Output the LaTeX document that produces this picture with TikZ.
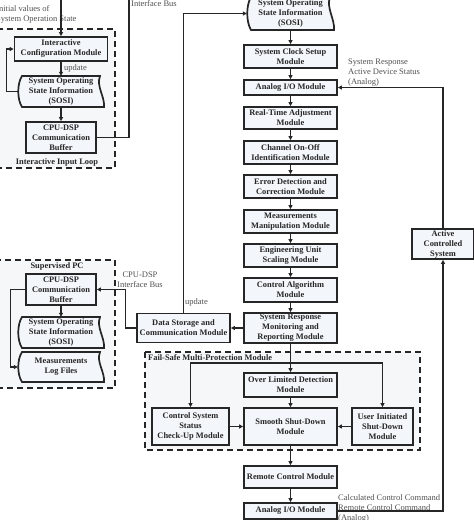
\documentclass[tikz,border=0pt]{standalone}
\usepackage{fontspec}
\setmainfont{Liberation Serif}
\usetikzlibrary{arrows.meta,calc}
\definecolor{boxfill}{HTML}{F3F6FA}
\definecolor{grpfill}{HTML}{F6F7F9}
\definecolor{linec}{HTML}{262626}
\definecolor{labc}{HTML}{505050}
\tikzset{
 boxline/.style={draw=linec, line width=1.7pt},
 modbox/.style={boxline, fill=boxfill, align=center, inner sep=0pt, font=\fontsize{8.4}{10}\selectfont\bfseries, text=black!85},
 boxtext/.style={align=center, inner sep=0pt, font=\fontsize{8.4}{10}\selectfont\bfseries, text=black!85},
 group/.style={draw=linec, line width=1.6pt, dash pattern=on 6pt off 4pt, fill=grpfill},
 conn/.style={draw=linec, line width=1.3pt},
 arr/.style={conn, -{Triangle[length=4pt,width=4pt]}},
 lab/.style={align=left, inner sep=0pt, font=\fontsize{8.5}{10}\selectfont, text=labc},
 grptitle/.style={inner sep=0pt, font=\fontsize{8.4}{10}\selectfont\bfseries, text=black!85},
}
% name, cx, cy, w, h, text
\newcommand{\tapenode}[6]{%
  \path[boxline,fill=boxfill] (#2-#4/2+4,#3-#5/2) -- (#2+#4/2-4,#3-#5/2)
    .. controls (#2+#4/2-8,#3-#5/6) and (#2+#4/2+1,#3+#5/6) .. (#2+#4/2,#3+#5/2)
    -- (#2-#4/2+4,#3+#5/2)
    .. controls (#2-#4/2-1,#3+#5/4) and (#2-#4/2-1,#3-#5/4) .. cycle;
  \node[boxtext, minimum width=#4pt, minimum height=#5pt] (#1) at (#2,#3) {#6};
}
\begin{document}
\begin{tikzpicture}[x=1pt,y=-1pt]
\useasboundingbox (0,0) rectangle (474,520);

% groups
\draw[group] (-5,29) rectangle (115,168);
\draw[group] (-5,260) rectangle (115,388);
\draw[group] (145,352) rectangle (420,450);
\node[grptitle] (tint) at (57,162) {Interactive Input Loop};
\node[grptitle] (tsup) at (57,266) {Supervised PC};
\node[grptitle, anchor=west] (tfs) at (148,358) {Fail-Safe Multi-Protection Module};

% interactive input loop
\node[modbox, minimum width=93pt, minimum height=24pt] (icfg) at (61,49) {Interactive\\Configuration Module};
\tapenode{isosi}{61}{91.5}{86}{31}{System Operating\\State Information\\(SOSI)}
\node[modbox, minimum width=70pt, minimum height=31pt] (icpu) at (61,137.5) {CPU-DSP\\Communication\\Buffer};

% supervised PC
\node[modbox, minimum width=70pt, minimum height=31pt] (scpu) at (61,289.5) {CPU-DSP\\Communication\\Buffer};
\tapenode{ssosi}{61}{332.5}{86}{31}{System Operating\\State Information\\(SOSI)}
\tapenode{mlog}{61}{367}{86}{30}{Measurements\\Log Files}

% main column
\tapenode{sosi}{290.5}{13.5}{87}{33}{System Operating\\State Information\\(SOSI)}
\node[modbox, minimum width=93pt, minimum height=23pt] (clk) at (290.5,56.5) {System Clock Setup\\Module};
\node[modbox, minimum width=93pt, minimum height=15pt] (aio1) at (290.5,87.5) {Analog I/O Module};
\node[modbox, minimum width=93pt, minimum height=22pt] (rt) at (290.5,118) {Real-Time Adjustment\\Module};
\node[modbox, minimum width=93pt, minimum height=23pt] (ch) at (290.5,152.5) {Channel On-Off\\Identification Module};
\node[modbox, minimum width=93pt, minimum height=23pt] (err) at (290.5,186.5) {Error Detection and\\Correction Module};
\node[modbox, minimum width=93pt, minimum height=23pt] (mm) at (290.5,221.5) {Measurements\\Manipulation Module};
\node[modbox, minimum width=93pt, minimum height=23pt] (eng) at (290.5,255.5) {Engineering Unit\\Scaling Module};
\node[modbox, minimum width=93pt, minimum height=24pt] (ca) at (290.5,290) {Control Algorithm\\Module};
\node[modbox, minimum width=93pt, minimum height=30pt] (srm) at (290.5,328) {System Response\\Monitoring and\\Reporting Module};
\node[modbox, minimum width=93pt, minimum height=29pt] (ds) at (183.5,328) {Data Storage and\\Communication Module};

% fail-safe
\node[modbox, minimum width=93pt, minimum height=24pt] (ol) at (290.5,385) {Over Limited Detection\\Module};
\node[modbox, minimum width=77pt, minimum height=37pt] (cs) at (190.5,426.5) {Control System\\Status\\Check-Up Module};
\node[modbox, minimum width=93pt, minimum height=37pt] (ss) at (290.5,426.5) {Smooth Shut-Down\\Module};
\node[modbox, minimum width=61pt, minimum height=37pt] (ui) at (382.5,426.5) {User Initiated\\Shut-Down\\Module};

\node[modbox, minimum width=93pt, minimum height=22pt] (rc) at (290.5,477) {Remote Control Module};
\node[modbox, minimum width=93pt, minimum height=16pt] (aio2) at (290.5,511) {Analog I/O Module};
\node[modbox, minimum width=62pt, minimum height=30pt] (acs) at (443,244) {Active\\Controlled\\System};

% labels
\node[lab, anchor=north west] (initlab) at (-4,5.5) {Initial values of\\System Operation State};
\node[lab, anchor=west] (upd1) at (64,68.5) {update};
\node[lab, anchor=north west] (ibuslab) at (131,-9.5) {CPU-DSP\\Interface Bus};
\node[lab, anchor=west] (upd2) at (185,302) {update};
\node[lab, align=center, anchor=north] (sbuslab) at (140,271.5) {CPU-DSP\\Interface Bus};
\node[lab, anchor=north west] (fbklab) at (348,58.5) {System Response\\Active Device Status\\(Analog)};
\node[lab, anchor=north west] (cmdlab) at (338,494.5) {Calculated Control Command\\Remote Control Command\\(Analog)};

% connectors: interactive loop
\coordinate (initTop) at (61,-5);
\draw[arr] (initTop) -- (icfg.north);
\draw[arr] (icfg.south) -- (isosi.north);
\draw[arr] (isosi.south) -- (icpu.north);
\draw[arr] (isosi.west) -- ++(-11,0) |- (icfg.west);
\coordinate (ibus) at (129,-5);
\draw[conn] (icpu.east) -| (ibus);

% supervised PC
\draw[arr] (ds.west) -- ++(-11,0) |- (scpu.east);
\draw[arr] (scpu.south) -- (ssosi.north);
\draw[arr] (scpu.west) -- ++(-15,0) |- (mlog.west);

% main chain
\draw[arr] (sosi.south) -- (clk.north);
\draw[arr] (clk) -- (aio1);
\draw[arr] (aio1) -- (rt);
\draw[arr] (rt) -- (ch);
\draw[arr] (ch) -- (err);
\draw[arr] (err) -- (mm);
\draw[arr] (mm) -- (eng);
\draw[arr] (eng) -- (ca);
\draw[arr] (ca) -- (srm);
\draw[arr] (srm.west) -- (ds.east);
\draw[arr] (ds.north) |- (sosi.west);

% fail-safe
\coordinate (br) at (290.5,363);
\draw[conn] (srm.south) -- (br);
\draw[arr] (br) -- (ol.north);
\draw[arr] (br) -| (cs.north);
\draw[arr] (br) -| (ui.north);
\draw[arr] (ol) -- (ss);
\draw[arr] (cs) -- (ss);
\draw[arr] (ui) -- (ss);
\draw[arr] (ss) -- (rc);
\draw[arr] (rc) -- (aio2);

% feedback loop
\draw[arr] (acs.north) |- (aio1.east);
\draw[arr] (aio2.east) -| (acs.south);
\end{tikzpicture}
\end{document}
